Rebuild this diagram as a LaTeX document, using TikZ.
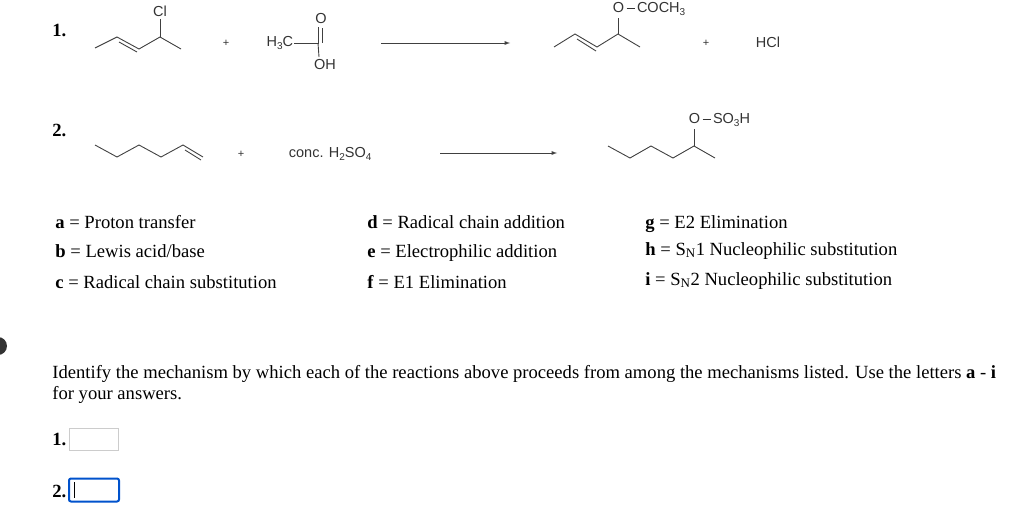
\documentclass[tikz,border=0pt]{standalone}
\usepackage{fontspec}
\setmainfont{Liberation Serif}
\newfontfamily\chem{Liberation Sans}
\newcommand{\chsub}[1]{\raisebox{-2.5pt}{\fontsize{10}{10}\selectfont #1}}
\begin{document}
\begin{tikzpicture}[x=1pt,y=-1pt,line width=0.8pt,
  bond/.style={draw=black!75,line width=0.9pt},
  ch/.style={font=\chem\fontsize{14.5}{16}\selectfont,inner sep=0.5pt,text=black!80},
  pl/.style={font=\chem\fontsize{11}{12}\selectfont,inner sep=0.5pt,text=black!80},
  txt/.style={font=\fontsize{18.6}{21}\selectfont,anchor=base west,inner sep=0pt},
  num/.style={font=\bfseries\fontsize{18.6}{21}\selectfont,anchor=base west,inner sep=0pt},
  arr/.style={draw=black!75,line width=0.9pt,-latex}]
\useasboundingbox (0,0) rectangle (1024,519);
% reaction labels
\node[num] (n1) at (52,37) {1.};
\node[num] (n2) at (52,136) {2.};
% reactant 1
\draw[bond] (95,48)--(117,37)--(139,49)--(160,37)--(181,49);
\draw[bond] (119,42)--(137,52);
\draw[bond] (160,37)--(160,19);
\node[ch] (cl) at (160,11) {Cl};
\node[pl] (p1) at (226,43) {+};
\node[ch,anchor=east] (h3c) at (294,43) {H\chsub{3}C};
\draw[bond] (h3c.east)--(318,43)--(318,27);
\draw[bond] (322,43)--(322,28);
\draw[bond] (318,43)--(319,57);
\node[ch] (o1) at (321,19) {O};
\node[ch] (oh) at (325,65) {OH};
\coordinate (a1s) at (381,43); \coordinate (a1e) at (510,43);
\draw[arr] (a1s)--(a1e);
% product 1
\draw[bond] (554,47)--(575,34)--(597,47)--(618,34)--(640,47);
\draw[bond] (577,39)--(596,51);
\draw[bond] (618,34)--(618,18);
\node[ch,anchor=west] (oc) at (612,9) {O\,\rule[4pt]{8pt}{0.8pt}\,COCH\chsub{3}};
\node[pl] (p2) at (706,43) {+};
\node[ch] (hcl) at (768,42) {HCl};
% reaction 2
\draw[bond] (95,145)--(117,157)--(139,145)--(161,157)--(183,145)--(203,157);
\draw[bond] (185,150)--(201,160);
\node[pl] (p3) at (241,154) {+};
\node[ch,anchor=west] (conc) at (288,154) {conc. H\chsub{2}SO\chsub{4}};
\coordinate (a2s) at (440,153); \coordinate (a2e) at (557,153);
\draw[arr] (a2s)--(a2e);
\draw[bond] (608,146)--(630,158)--(651,146)--(673,158)--(694,146)--(715,158);
\draw[bond] (694,146)--(694,129);
\node[ch,anchor=west] (os) at (688,120) {O\,\rule[4pt]{8pt}{0.8pt}\,SO\chsub{3}H};
% mechanisms
\node[txt] (ma) at (55,228) {\textbf{a} = Proton transfer};
\node[txt] (mb) at (55,257) {\textbf{b} = Lewis acid/base};
\node[txt] (mc) at (55,288) {\textbf{c} = Radical chain substitution};
\node[txt] (md) at (367,228) {\textbf{d} = Radical chain addition};
\node[txt] (me) at (367,257) {\textbf{e} = Electrophilic addition};
\node[txt] (mf) at (367,288) {\textbf{f} = E1 Elimination};
\node[txt] (mg) at (645,228) {\textbf{g} = E2 Elimination};
\node[txt] (mh) at (645,255) {\textbf{h} = S$_\mathrm{N}$1 Nucleophilic substitution};
\node[txt] (mi) at (645,285) {\textbf{i} = S$_\mathrm{N}$2 Nucleophilic substitution};
% dark circle at edge
\fill[black!80] (-2,346) circle (9);
% question
\node[txt] (q1) at (52,378) {Identify the mechanism by which each of the reactions above proceeds from among the mechanisms listed. Use the letters \textbf{a} - \textbf{i}};
\node[txt] (q2) at (52,399) {for your answers.};
\node[num] (an1) at (52,445) {1.};
\node[draw=black!20,line width=0.8pt,minimum width=49pt,minimum height=22pt,inner sep=0pt] (b1) at (94,439) {};
\node[num] (an2) at (52,497) {2.};
\node[draw=blue!60!cyan!80!black,line width=2pt,rounded corners=2pt,minimum width=50pt,minimum height=23pt,inner sep=0pt] (b2) at (94,490) {};
\draw[line width=0.6pt] (74,482)--(74,498);
\end{tikzpicture}
\end{document}
